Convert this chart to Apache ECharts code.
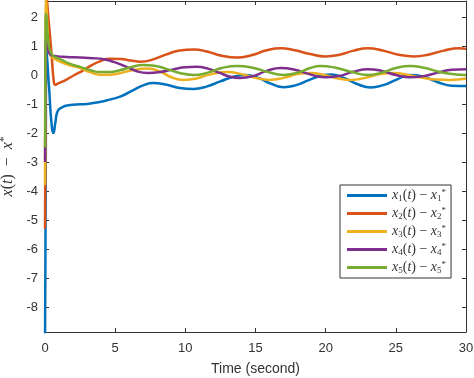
<!DOCTYPE html>
<html><head><meta charset="utf-8">
<script src="https://cdn.jsdelivr.net/npm/echarts@6/dist/echarts.min.js"></script>
<style>html,body{margin:0;padding:0;background:#fff}#c{width:474px;height:378px}</style>
</head><body><div id="c"></div>
<script>
// ---- data ----
const xTicks = [0, 5, 10, 15, 20, 25, 30];
const yTicks = [-8, -7, -6, -5, -4, -3, -2, -1, 0, 1, 2];
const names = ['1', '2', '3', '4', '5'];

const t1 = [0,0.05,0.1,0.3,0.45,0.6,0.75,0.9,1.2,1.6,2.2,3.0,3.9,4.6,5.4,6.3,7.0,7.7,8.6,9.6,10.6,11.5,12.5,13.5,14.3,15.2,16.1,17.0,17.9,18.8,19.7,20.4,21.3,22.3,23.2,24.1,25.1,26.0,26.9,28.0,29.0,30];
const v1 = [-9.5,-4,0.9,-0.5,-1.6,-2.0,-1.6,-1.25,-1.12,-1.05,-1.02,-1.0,-0.93,-0.85,-0.74,-0.52,-0.36,-0.28,-0.33,-0.45,-0.48,-0.4,-0.22,-0.05,0.0,-0.1,-0.3,-0.42,-0.35,-0.18,-0.02,0.02,-0.1,-0.32,-0.43,-0.35,-0.15,0.0,-0.05,-0.25,-0.37,-0.38];

const t2 = [0,0.06,0.12,0.2,0.35,0.5,0.62,0.72,0.9,1.5,2.1,2.7,3.3,3.9,4.6,5.4,6.1,6.8,7.6,8.6,9.6,10.6,11.6,12.6,13.7,14.7,15.8,16.8,17.8,18.9,20.0,21.0,22.0,23.0,24.1,25.2,26.3,27.3,28.4,29.5,30];
const v2 = [-5.3,1.0,2.7,2.2,1.4,0.5,-0.2,-0.34,-0.3,-0.17,0.0,0.15,0.33,0.47,0.56,0.55,0.5,0.46,0.52,0.7,0.84,0.88,0.8,0.66,0.6,0.68,0.85,0.92,0.85,0.72,0.64,0.7,0.84,0.92,0.84,0.7,0.64,0.7,0.84,0.92,0.9];

const t3 = [0,0.04,0.08,0.14,0.25,0.4,0.7,1.1,1.8,2.5,3.2,3.9,4.6,5.4,6.4,7.3,8.2,9.0,9.9,10.8,11.8,13.0,14.0,15.0,16.0,17.0,18.0,18.9,19.9,20.9,21.8,22.8,23.9,24.9,25.9,26.9,27.9,28.9,30];
const v3 = [-3.8,0,2.6,2.0,1.0,0.66,0.55,0.45,0.33,0.24,0.1,0.01,0.01,0.07,0.18,0.22,0.12,-0.08,-0.17,-0.12,0.02,0.1,0.03,-0.1,-0.17,-0.1,0.03,0.07,0.0,-0.12,-0.17,-0.1,0.03,0.07,0.0,-0.1,-0.16,-0.17,-0.12];

const t4 = [0,0.04,0.08,0.15,0.25,0.4,0.8,1.5,2.5,3.4,4.2,4.9,5.8,6.6,7.3,8.2,9.2,10.0,10.8,11.6,12.4,13.2,13.9,14.8,15.8,16.8,17.8,18.9,19.9,20.9,21.9,23.0,24.0,25.0,26.0,27.0,28.0,29.0,30];
const v4 = [-3.0,-0.5,1.3,1.2,0.85,0.7,0.65,0.62,0.6,0.58,0.54,0.45,0.28,0.12,0.07,0.1,0.2,0.27,0.28,0.22,0.08,-0.06,-0.1,-0.04,0.14,0.24,0.18,0.02,-0.08,-0.04,0.1,0.2,0.14,0.0,-0.08,-0.04,0.08,0.18,0.2];

const t5 = [0,0.03,0.06,0.1,0.2,0.35,0.6,1.07,1.8,2.5,3.2,3.9,4.6,5.4,6.2,7.0,7.8,8.7,9.6,10.6,11.6,12.6,13.7,14.8,15.9,17.0,18.0,18.9,19.6,20.7,21.9,23.0,24.0,25.0,26.0,27.0,28.0,29.0,30];
const v5 = [-2.5,0,2.1,2.05,1.3,0.86,0.65,0.55,0.38,0.28,0.17,0.1,0.1,0.17,0.28,0.34,0.32,0.2,0.07,0.0,0.08,0.24,0.31,0.25,0.1,0.0,0.08,0.24,0.31,0.25,0.1,0.0,0.08,0.24,0.31,0.25,0.12,0.03,0.0];

const times = [t1, t2, t3, t4, t5];
const vals = [v1, v2, v3, v4, v5];
const colors = ['#0072BD', '#D95319', '#EDB120', '#7E2F8E', '#77AC30'];

const axisColor = '#333';
const mathFont = 'Liberation Serif';

const series = names.map((n, i) => ({
  name: n,
  type: 'line',
  data: times[i].map((t, k) => [t, vals[i][k]]),
  smooth: 0.5,
  symbol: 'none',
  showSymbol: false,
  clip: true,
  lineStyle: { width: 2.5, color: colors[i] },
  itemStyle: { color: colors[i] },
  xAxisIndex: 0,
  yAxisIndex: 0
}));

const chart = echarts.init(document.getElementById('c'), null, { renderer: 'canvas' });
chart.setOption({
  animation: false,
  backgroundColor: '#fff',
  grid: { left: 45, right: 8, top: 1, bottom: 46, containLabel: false, outerBoundsMode: 'none' },
  xAxis: [{
    type: 'value', min: 0, max: 30, interval: 5,
    name: 'Time (second)', nameLocation: 'middle', nameGap: 30,
    nameTextStyle: { fontFamily: 'Liberation Sans', fontSize: 14, color: axisColor },
    axisLine: { show: true, onZero: false, lineStyle: { color: axisColor, width: 1 } },
    axisTick: { show: true, inside: true, length: 4, lineStyle: { color: axisColor } },
    axisLabel: { fontFamily: 'Liberation Sans', fontSize: 13, color: axisColor, margin: 10 },
    splitLine: { show: false }
  }, {
    type: 'value', min: 0, max: 30, interval: 5, position: 'top',
    axisLine: { show: true, onZero: false, lineStyle: { color: axisColor, width: 1 } },
    axisTick: { show: true, inside: true, length: 4, lineStyle: { color: axisColor } },
    axisLabel: { show: false }, splitLine: { show: false }
  }],
  yAxis: [{
    type: 'value', min: -8.86, max: 2.55,
    axisLine: { show: true, onZero: false, lineStyle: { color: axisColor, width: 1 } },
    axisTick: { show: true, inside: true, length: 4, customValues: yTicks, lineStyle: { color: axisColor } },
    axisLabel: { fontFamily: 'Liberation Sans', fontSize: 13, color: axisColor, margin: 7, customValues: yTicks },
    splitLine: { show: false },
    name: '{i|x}{n|(}{i|t}{n|)  −  }{i|x}{s|*}',
    nameLocation: 'middle', nameRotate: 90, nameGap: 14,
    nameTextStyle: {
      color: axisColor,
      rich: {
        i: { fontFamily: mathFont, fontStyle: 'italic', fontSize: 16, color: axisColor },
        n: { fontFamily: mathFont, fontSize: 16, color: axisColor },
        s: { fontFamily: mathFont, fontSize: 11, color: axisColor, verticalAlign: 'top', lineHeight: 18 }
      }
    }
  }, {
    type: 'value', min: -8.86, max: 2.55, position: 'right',
    axisLine: { show: true, onZero: false, lineStyle: { color: axisColor, width: 1 } },
    axisTick: { show: true, inside: true, length: 4, customValues: yTicks, lineStyle: { color: axisColor } },
    axisLabel: { show: false, customValues: yTicks }, splitLine: { show: false }
  }],
  legend: {
    orient: 'vertical',
    left: 340, top: 185,
    data: names,
    icon: 'rect',
    itemWidth: 40, itemHeight: 3, itemGap: 3, itemTextGap: 3,
    padding: [3, 5, 3, 7],
    backgroundColor: '#fff',
    borderColor: axisColor, borderWidth: 1, borderRadius: 0,
    formatter: n => '{i|x}{b|' + n + '}{n|(}{i|t}{n|) − }{i|x}{b|' + n + '}{s|*}',
    textStyle: {
      color: axisColor,
      rich: {
        i: { fontFamily: mathFont, fontStyle: 'italic', fontSize: 14, color: axisColor, lineHeight: 15 },
        n: { fontFamily: mathFont, fontSize: 14, color: axisColor, lineHeight: 15 },
        b: { fontFamily: mathFont, fontSize: 9, color: axisColor, verticalAlign: 'bottom', lineHeight: 15 },
        s: { fontFamily: mathFont, fontSize: 9, color: axisColor, verticalAlign: 'top', lineHeight: 15 }
      }
    }
  },
  series: series
});
</script>
</body></html>
